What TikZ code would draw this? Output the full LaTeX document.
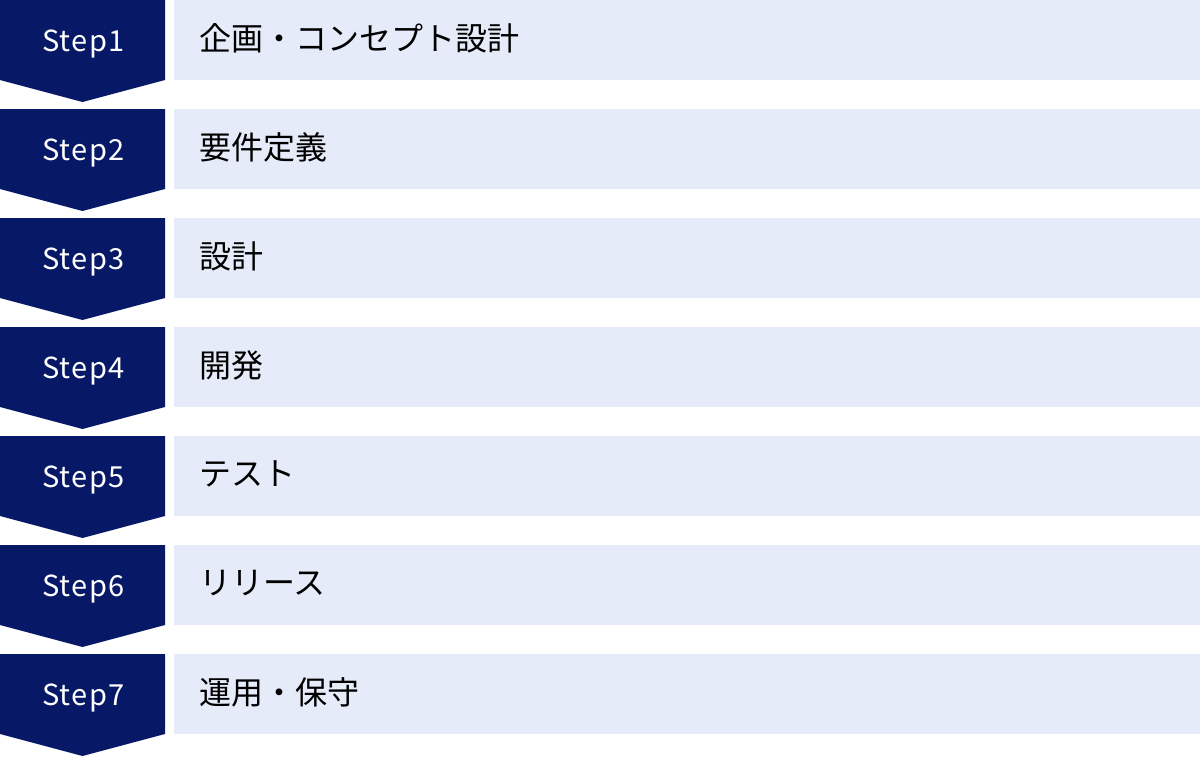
\documentclass[tikz,border=0pt]{standalone}
\usepackage{fontspec}
\setmainfont{Noto Sans CJK JP}
\newfontfamily\stepfont[LetterSpace=5]{Noto Sans CJK JP}
\definecolor{stepnavy}{HTML}{061866}
\definecolor{rowblue}{HTML}{E5EBF8}
\tikzset{
  steplabel/.style={text=white,font=\stepfont\fontsize{29}{29}\selectfont},
  rowlabel/.style={anchor=west,inner sep=0pt,font=\fontsize{32}{32}\selectfont}
}
\begin{document}
\begin{tikzpicture}[x=1pt,y=-1pt]
        \useasboundingbox (0,0) rectangle (1200,756);
        \foreach \n/\txt in {1/企画・コンセプト設計,2/要件定義,3/設計,4/開発,5/テスト,6/リリース,7/運用・保守} {
          \pgfmathsetmacro{\rowtop}{109*(\n-1)}
          \fill[stepnavy] (0,\rowtop) -- (165,\rowtop) -- (165,\rowtop+80) -- (82.5,\rowtop+102) -- (0,\rowtop+80) -- cycle;
          \fill[rowblue] (174,\rowtop) rectangle (1200,\rowtop+80);
          \node[steplabel] (step\n) at (83.5,\rowtop+44) {Step\n};
          \node[rowlabel] (task\n) at (199,\rowtop+38) {\txt};
        }
        \end{tikzpicture}
\end{document}
